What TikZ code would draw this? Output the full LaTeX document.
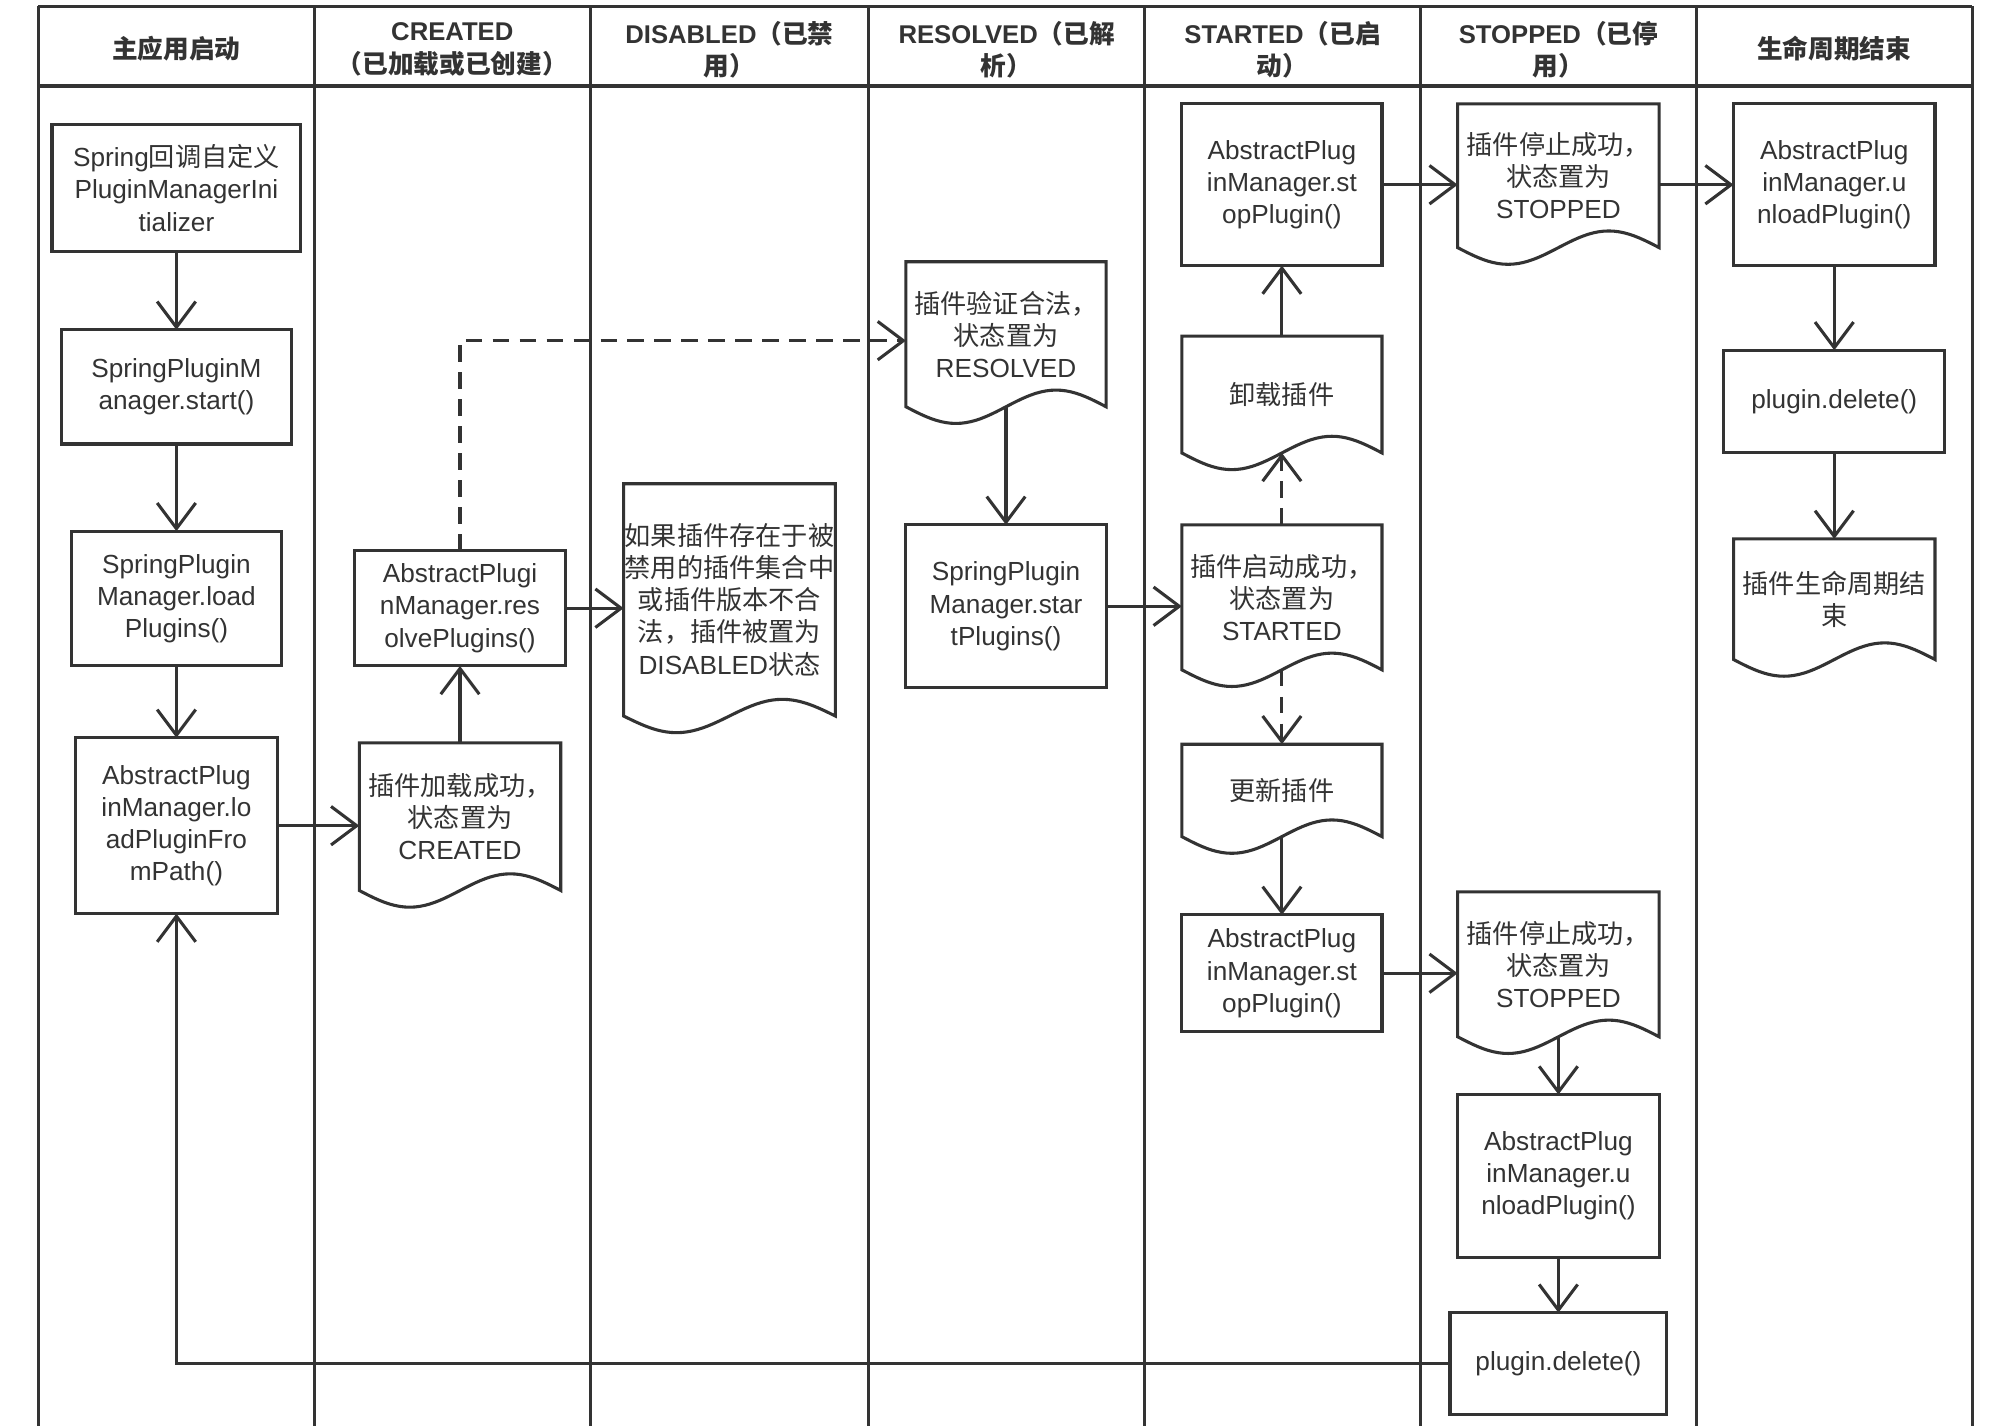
\documentclass[tikz,border=0pt]{standalone}
\usepackage{fontspec}
\setmainfont{Liberation Sans}
\newfontfamily\zhfont{Noto Sans CJK SC}
\newcommand\zhs[1]{{\zhfont #1}}
\newcommand\bodyfont{\fontsize{10.2}{12.5}\selectfont}
\newcommand\headfont{\fontsize{10}{12.5}\selectfont\bfseries}
\usetikzlibrary{arrows.meta}
\definecolor{ink}{HTML}{333333}
\newcommand\docshape[4]{%
  \draw (#1,#4) -- (#1,#3) -- (#2,#3) -- (#2,#4) -- plot[domain=0:1, samples=41, variable=\t] ({#2-\t*(#2-#1)},{#4-13*sin(360*\t)}) -- cycle;}
\tikzset{
  box/.style={draw, rectangle, inner sep=0pt, outer sep=0pt, align=center, font=\bodyfont},
  doc/.style={rectangle, inner sep=0pt, outer sep=0pt, align=center, font=\bodyfont},
  hd/.style={align=center, font=\headfont, inner sep=0pt},
  arr/.style={-{Straight Barb[length=10pt,width=15pt]}},
  dsh/.style={dash pattern=on 6.5pt off 4pt},
  frame/.style={line width=1.3pt}
}
\begin{document}
\begin{tikzpicture}[x=0.5pt,y=-0.5pt, line width=1.2pt, color=ink]
\fill[white] (0,0) rectangle (1568,1111);
\useasboundingbox (0,0) rectangle (1568,1111);
% frame
\draw[frame] (30,5) -- (1537,5);
\draw[frame] (30,67) -- (1537,67);
\foreach \xx in {30,245,460,677,892,1107,1322,1537} \draw[frame] (\xx,5) -- (\xx,1111);
% headers
\node[hd] (h1) at (137.5,38) {\zhs{主应用启动}};
\node[hd] (h2) at (352.5,38.5) {CREATED\\\zhs{（已加载或已创建）}};
\node[hd] (h3) at (568.5,38.5) {DISABLED\zhs{（已禁}\\\zhs{用）}};
\node[hd] (h4) at (784.5,38.5) {RESOLVED\zhs{（已解}\\\zhs{析）}};
\node[hd] (h5) at (999.5,38.5) {STARTED\zhs{（已启}\\\zhs{动）}};
\node[hd] (h6) at (1214.5,38.5) {STOPPED\zhs{（已停}\\\zhs{用）}};
\node[hd] (h7) at (1429.5,38) {\zhs{生命周期结束}};
% column 1
\node[box, minimum width=97pt, minimum height=49.5pt] (a1) at (137.5,146.5) {Spring\zhs{回调自定义}\\PluginManagerIni\\tializer};
\node[box, minimum width=89.5pt, minimum height=44.5pt] (a2) at (137.5,301.5) {SpringPluginM\\anager.start()};
\node[box, minimum width=82pt, minimum height=52.5pt] (a3) at (137.5,466.5) {SpringPlugin\\Manager.load\\Plugins()};
\node[box, minimum width=78.5pt, minimum height=68.5pt] (a4) at (137.5,643.5) {AbstractPlug\\inManager.lo\\adPluginFro\\mPath()};
% column 2
\node[box, minimum width=82.5pt, minimum height=45pt] (c2) at (358.5,474) {AbstractPlugi\\nManager.res\\olvePlugins()};
\docshape{280}{437}{579}{694}
\node[doc, minimum width=78.5pt, minimum height=57.5pt] (c1) at (358.5,636.5) {\zhs{插件加载成功，}\\\zhs{状态置为}\\CREATED};
% column 3
\docshape{486}{651}{377}{558}
\node[doc, minimum width=82.5pt, minimum height=90.5pt] (d1) at (568.5,467.5) {\zhs{如果插件存在于被}\\\zhs{禁用的插件集合中}\\\zhs{或插件版本不合}\\\zhs{法，插件被置为}\\DISABLED\zhs{状态}};
% column 4
\docshape{706}{862}{204}{317}
\node[doc, minimum width=78pt, minimum height=56.5pt] (r1) at (784,260.5) {\zhs{插件验证合法，}\\\zhs{状态置为}\\RESOLVED};
\node[box, minimum width=78pt, minimum height=63.5pt] (r2) at (784,472.5) {SpringPlugin\\Manager.star\\tPlugins()};
% column 5
\node[box, minimum width=78pt, minimum height=63pt] (s1) at (999,144) {AbstractPlug\\inManager.st\\opPlugin()};
\docshape{921}{1077}{262}{353}
\node[doc, minimum width=78pt, minimum height=45.5pt] (s2) at (999,307.5) {\zhs{卸载插件}};
\docshape{921}{1077}{409}{522}
\node[doc, minimum width=78pt, minimum height=56.5pt] (s3) at (999,465.5) {\zhs{插件启动成功，}\\\zhs{状态置为}\\STARTED};
\docshape{921}{1077}{580}{652}
\node[doc, minimum width=78pt, minimum height=36pt] (s4) at (999,616) {\zhs{更新插件}};
\node[box, minimum width=78pt, minimum height=45.5pt] (s5) at (999,758.5) {AbstractPlug\\inManager.st\\opPlugin()};
% column 6
\docshape{1136}{1293}{81}{193}
\node[doc, minimum width=78.5pt, minimum height=56pt] (t1) at (1214.5,137) {\zhs{插件停止成功，}\\\zhs{状态置为}\\STOPPED};
\docshape{1136}{1293}{695}{808}
\node[doc, minimum width=78.5pt, minimum height=56.5pt] (t2) at (1214.5,751.5) {\zhs{插件停止成功，}\\\zhs{状态置为}\\STOPPED};
\node[box, minimum width=78.5pt, minimum height=63.5pt] (t3) at (1214.5,916.5) {AbstractPlug\\inManager.u\\nloadPlugin()};
\node[box, minimum width=84.5pt, minimum height=39.5pt] (t4) at (1214.5,1062.5) {plugin.delete()};
% column 7
\node[box, minimum width=78.5pt, minimum height=63pt] (e1) at (1429.5,144) {AbstractPlug\\inManager.u\\nloadPlugin()};
\node[box, minimum width=86pt, minimum height=40pt] (e2) at (1429.5,313) {plugin.delete()};
\docshape{1351}{1508}{420}{514}
\node[doc, minimum width=78.5pt, minimum height=47pt] (e3) at (1429.5,467) {\zhs{插件生命周期结}\\\zhs{束}};
% connectors
\draw[arr] (a1.south) -- (a2.north);
\draw[arr] (a2.south) -- (a3.north);
\draw[arr] (a3.south) -- (a4.north);
\draw[arr] (a4.east) -- (a4.east -| c1.west);
\draw[arr] (c1.north) -- (c2.south);
\draw[arr, dsh] (c2.north) |- ([yshift=-2.5pt]r1.west);
\draw[arr] (c2.east) -- (c2.east -| d1.west);
\draw[arr] (r1.south) -- (r2.north);
\draw[arr] (r2.east) -- (r2.east -| s3.west);
\draw[arr] (s2.north) -- (s1.south);
\draw[arr, dsh] (s3.north) -- (s2.south);
\draw[arr, dsh] (s3.south) -- (s4.north);
\draw[arr] (s4.south) -- (s5.north);
\draw[arr] (s1.east) -- (s1.east -| t1.west);
\draw[arr] (s5.east) -- (s5.east -| t2.west);
\draw[arr] (e1.west -| t1.east) -- (e1.west);
\draw[arr] (t2.south) -- (t3.north);
\draw[arr] (t3.south) -- (t4.north);
\draw[arr] (t4.west) -| (a4.south);
\draw[arr] (e1.south) -- (e2.north);
\draw[arr] (e2.south) -- (e3.north);
\end{tikzpicture}
\end{document}
